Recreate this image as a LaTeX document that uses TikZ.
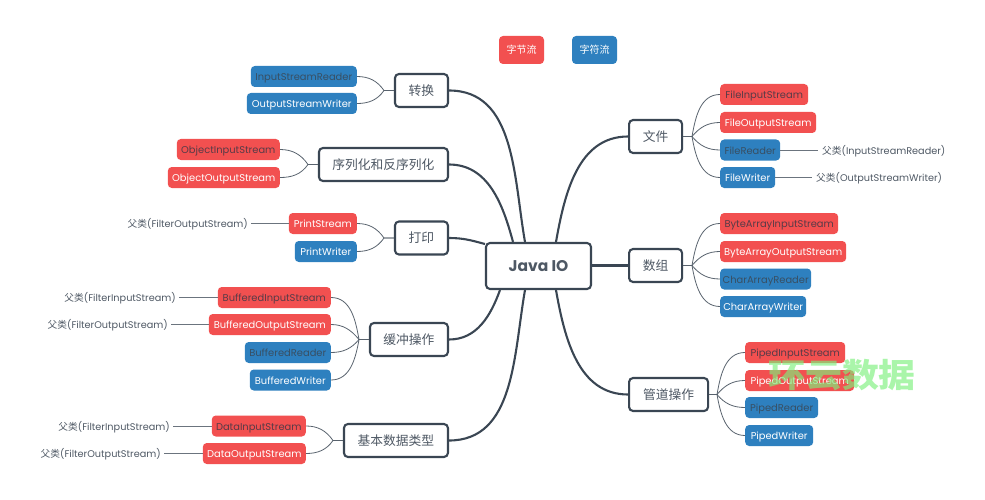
\documentclass[tikz,border=0pt]{standalone}
\usepackage{fontspec}
\setmainfont{Poppins}
\newfontfamily\cjk{Noto Sans CJK SC}
\usepackage{tikz}
\usetikzlibrary{calc}
\usetikzlibrary{positioning}
\definecolor{inkdark}{HTML}{3A4653}
\definecolor{redleaf}{HTML}{F25050}
\definecolor{blueleaf}{HTML}{2E80BF}
\definecolor{stampgreen}{HTML}{7CF07C}
\tikzset{
  topicbox/.style={draw=inkdark, line width=2.1pt, rounded corners=4pt, fill=white, text=inkdark!90, minimum height=33pt, inner sep=0pt, font=\cjk\fontsize{12.75}{15}\selectfont},
  leafbox/.style={rounded corners=4pt, minimum height=21pt, inner sep=0pt, text height=8pt, text depth=0pt, text=white, font=\fontsize{9.9}{12}\selectfont},
  redbox/.style={leafbox, fill=redleaf},
  bluebox/.style={leafbox, fill=blueleaf},
  reddim/.style={redbox, text=inkdark!85!red},
  bluedim/.style={bluebox, text=inkdark!85!blueleaf},
  notetext/.style={text=inkdark!90, inner sep=0pt, text height=8pt, text depth=0pt, font=\fontsize{9.7}{12}\selectfont},
  trunk/.style={draw=inkdark, line width=2.1pt},
  twig/.style={draw=inkdark!85, line width=0.8pt},
  notelink/.style={draw=inkdark!75, line width=0.9pt}
}
\begin{document}
\begin{tikzpicture}[x=1pt, y=-1pt]
  \useasboundingbox (0, 0) rectangle (985, 500);
  % centre
  \node [topicbox, minimum width=105pt, minimum height=46pt, font=\bfseries\fontsize{15.5}{18}\selectfont] (javaio) at (538.5, 266) {Java IO};
  % legend
  \node [redbox, minimum width=45pt, minimum height=28pt, font=\cjk\fontsize{10}{12}\selectfont] (bytelegend) at (521.5, 50) {字节流};
  \node [bluebox, minimum width=45pt, minimum height=28pt, font=\cjk\fontsize{10}{12}\selectfont] (charlegend) at (594.5, 50) {字符流};
  % topics
  \node [topicbox, anchor=east, minimum width=53pt] (convert) at (449, 90.5) {转换};
  \node [topicbox, anchor=east, minimum width=129pt] (serial) at (449, 164.5) {序列化和反序列化};
  \node [topicbox, anchor=east, minimum width=53pt] (print) at (449, 238) {打印};
  \node [topicbox, anchor=east, minimum width=78pt] (buffer) at (449, 339.5) {缓冲操作};
  \node [topicbox, anchor=east, minimum width=104pt] (basic) at (449, 440.5) {基本数据类型};
  \node [topicbox, anchor=west, minimum width=53pt] (file) at (628, 136.5) {文件};
  \node [topicbox, anchor=west, minimum width=53pt] (array) at (628, 265.5) {数组};
  \node [topicbox, anchor=west, minimum width=79pt] (pipe) at (628, 394.5) {管道操作};
  % trunks
  \draw [trunk] (convert.east) to [out=0, in=100] ([xshift=-13.5pt]javaio.north);
  \draw [trunk] (serial.east) to [out=0, in=105] ([xshift=-25.5pt]javaio.north);
  \draw [trunk] (print.east) to [out=0, in=165] ([yshift=22pt]javaio.west);
  \draw [trunk] (buffer.east) to [out=0, in=-110] ([xshift=-38.5pt]javaio.south);
  \draw [trunk] (basic.east) to [out=0, in=-100] ([xshift=-13.5pt]javaio.south);
  \draw [trunk] (file.west) to [out=180, in=80] ([xshift=17.5pt]javaio.north);
  \draw [trunk] (array.west) -- (javaio.east |- array.west);
  \draw [trunk] (pipe.west) to [out=180, in=-80] ([xshift=17.5pt]javaio.south);
  % left leaves
  \foreach \name/\boxstyle/\x/\y/\w/\label/\parent/\fork/\ang in {
      isr/bluedim/357/76.5/106/InputStreamReader/convert/384/125,
      osw/bluebox/357/103.5/110/OutputStreamWriter/convert/384/-125,
      ois/reddim/280/149.5/103/ObjectInputStream/serial/308/125,
      oos/redbox/280/177.5/112/ObjectOutputStream/serial/308/-125,
      ps/redbox/357/223.5/68/PrintStream/print/384/125,
      pw/bluebox/357/251.5/62/PrintWriter/print/384/-125,
      bis/reddim/331/297.5/113/BufferedInputStream/buffer/359/100,
      bos/redbox/331/324.5/122/BufferedOutputStream/buffer/359/130,
      br/bluedim/331/352.5/86/BufferedReader/buffer/359/-130,
      bw/bluebox/331/380/81/BufferedWriter/buffer/359/-100,
      dis/reddim/306/426/94/DataInputStream/basic/333/125,
      dos/redbox/306/453.5/103/DataOutputStream/basic/333/-125} {
    \node [\boxstyle, anchor=east, minimum width=\w pt] (\name) at (\x, \y) {\label};
    \draw [twig] (\parent.west) -- (\fork, 0 |- \parent.west) to [out=\ang, in=0] (\name.east);
  }
  % right leaves
  \foreach \name/\boxstyle/\x/\y/\w/\label/\parent/\fork/\ang in {
      fis/reddim/720/94.5/88/FileInputStream/file/692/80,
      fos/redbox/720/122.5/96/FileOutputStream/file/692/50,
      fr/bluedim/720/150/60/FileReader/file/692/-50,
      fw/bluebox/720/177.5/55/FileWriter/file/692/-80,
      bais/reddim/720/223.5/118/ByteArrayInputStream/array/692/80,
      baos/redbox/720/251.5/126/ByteArrayOutputStream/array/692/50,
      car/bluedim/720/279/91/CharArrayReader/array/692/-50,
      caw/bluebox/720/306.5/86/CharArrayWriter/array/692/-80,
      pis/reddim/745/352.5/100/PipedInputStream/pipe/717/80,
      pos/redbox/745/380.5/109/PipedOutputStream/pipe/717/50,
      prd/bluedim/745/407.5/73/PipedReader/pipe/717/-50,
      pwr/bluebox/745/435.5/68/PipedWriter/pipe/717/-80} {
    \node [\boxstyle, anchor=west, minimum width=\w pt] (\name) at (\x, \y) {\label};
    \draw [twig] (\parent.east) -- (\fork, 0 |- \parent.east) to [out=\ang, in=180] (\name.west);
  }
  % notes on the left
  \foreach \name/\x/\target/\label in {
      noteps/248/ps/FilterOutputStream,
      notebis/176/bis/FilterInputStream,
      notebos/168/bos/FilterOutputStream,
      notedis/170/dis/FilterInputStream,
      notedos/161/dos/FilterOutputStream} {
    \node [notetext, anchor=east] (\name) at (\x, 0 |- \target.west) {{\cjk 父类}(\label)};
    \draw [notelink] ([xshift=3pt]\name.east) -- (\target.west);
  }
  % notes on the right
  \foreach \name/\x/\target/\label in {
      notefr/822/fr/InputStreamReader,
      notefw/816/fw/OutputStreamWriter} {
    \node [notetext, anchor=west] (\name) at (\x, 0 |- \target.east) {{\cjk 父类}(\label)};
    \draw [notelink] (\target.east) -- ([xshift=-4pt]\name.west);
  }
  % watermark
  \node [opacity=0.65, text=stampgreen, inner sep=0pt, xscale=1.12, transform shape, font=\cjk\bfseries\fontsize{33}{36}\selectfont] (stamp) at (842, 375) {环云数据};
\end{tikzpicture}
\end{document}
